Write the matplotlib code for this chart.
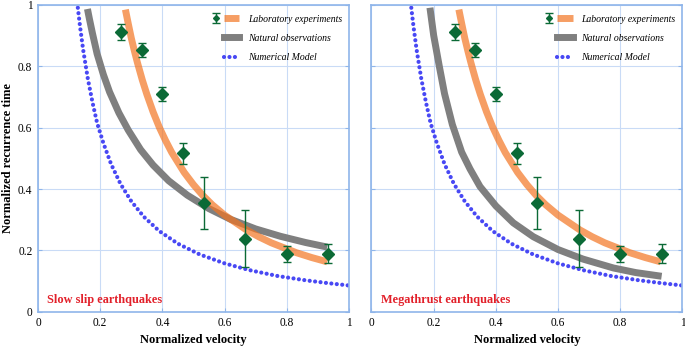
import matplotlib
matplotlib.use('Agg')
import matplotlib.pyplot as plt
from matplotlib.lines import Line2D
from matplotlib.legend_handler import HandlerTuple
from matplotlib.ticker import FuncFormatter

plt.rcParams['font.family'] = 'Liberation Serif'

# lab data (same in both panels)
lab_v = [0.267, 0.333, 0.400, 0.467, 0.533, 0.667, 0.800, 0.933]
lab_t = [0.912, 0.852, 0.708, 0.517, 0.355, 0.238, 0.187, 0.190]
lab_lo = [0.885, 0.829, 0.686, 0.482, 0.271, 0.147, 0.162, 0.160]
lab_hi = [0.937, 0.876, 0.733, 0.551, 0.438, 0.331, 0.214, 0.221]

# laboratory fit curve
fit_v = [0.281, 0.29, 0.30, 0.31, 0.32, 0.335, 0.35, 0.37, 0.39, 0.41, 0.43, 0.47,
         0.50, 0.53, 0.56, 0.60, 0.67, 0.71, 0.75, 0.83, 0.88, 0.93]
fit_t = [0.984, 0.939, 0.891, 0.849, 0.81, 0.756, 0.708, 0.651, 0.601, 0.558, 0.519, 0.454,
         0.414, 0.379, 0.349, 0.315, 0.267, 0.2445, 0.225, 0.193, 0.177, 0.163]

# numerical model
num_v = [0.128, 0.135, 0.145, 0.16, 0.175, 0.19, 0.21, 0.235, 0.265, 0.30, 0.34,
         0.39, 0.45, 0.52, 0.60, 0.68, 0.77, 0.86, 0.93, 1.0]
num_t = [0.99, 0.93, 0.854, 0.76, 0.683, 0.615, 0.55, 0.481, 0.417, 0.36, 0.31,
         0.263, 0.222, 0.187, 0.158, 0.136, 0.117, 0.103, 0.094, 0.086]

# natural observations
slow_v = [0.159, 0.165, 0.175, 0.19, 0.21, 0.23, 0.26, 0.29, 0.33, 0.37, 0.42,
          0.48, 0.55, 0.62, 0.70, 0.78, 0.86, 0.93]
slow_t = [0.986, 0.955, 0.907, 0.84, 0.773, 0.716, 0.648, 0.592, 0.528, 0.478, 0.427,
          0.38, 0.336, 0.301, 0.27, 0.246, 0.226, 0.211]
mega_v = [0.188, 0.20, 0.218, 0.235, 0.26, 0.29, 0.317, 0.349, 0.40, 0.456, 0.52,
          0.60, 0.68, 0.778, 0.85, 0.933]
mega_t = [0.99, 0.90, 0.80, 0.71, 0.61, 0.52, 0.465, 0.408, 0.345, 0.29, 0.245,
          0.203, 0.172, 0.143, 0.128, 0.116]

panels = [('Slow slip earthquakes', slow_v, slow_t),
          ('Megathrust earthquakes', mega_v, mega_t)]

ticks = [0, 0.2, 0.4, 0.6, 0.8, 1]
blue_frame = '#8fb5ea'
grid_col = '#c9dbf6'
green = '#0b6a36'
dots = (0, (0.01, 1.3))

fig = plt.figure(figsize=(6.85, 3.46), dpi=100)
ax_left = [0.0555, 0.5423]

for i, (name, nv, nt) in enumerate(panels):
    ax = fig.add_axes([ax_left[i], 0.0985, 0.454, 0.888])
    ax.set_xlim(0, 1)
    ax.set_ylim(0, 1)

    ax.plot(nv, nt, color='#7f7f7f', lw=5, solid_capstyle='butt',
            solid_joinstyle='round', zorder=3)
    orange, = ax.plot(fit_v, fit_t, color='#f37522', alpha=0.7, lw=5,
                      solid_capstyle='butt', solid_joinstyle='round', zorder=4)
    ax.plot(num_v, num_t, color='#4848f4', lw=3.0, linestyle=dots,
            dash_capstyle='round', zorder=2)
    yerr = [[t - lo for t, lo in zip(lab_t, lab_lo)],
            [hi - t for t, hi in zip(lab_t, lab_hi)]]
    eb = ax.errorbar(lab_v, lab_t, yerr=yerr, fmt='D', color=green, ms=6,
                     elinewidth=1, capsize=3, capthick=1, zorder=5)

    ax.set_xticks(ticks)
    ax.set_yticks(ticks)
    fmt = FuncFormatter(lambda v, p: '%g' % v)
    ax.xaxis.set_major_formatter(fmt)
    ax.yaxis.set_major_formatter(fmt)
    ax.grid(True, color=grid_col, lw=0.8)
    ax.set_axisbelow(True)
    for s in ax.spines.values():
        s.set_color(blue_frame)
        s.set_linewidth(1.2)
    ax.tick_params(direction='in', length=3, color=blue_frame, right=True, top=False,
                   labelsize=8.3, pad=4)
    if i == 1:
        ax.tick_params(labelleft=False)
    else:
        ax.set_ylabel('Normalized recurrence time', fontsize=9, fontweight='bold', labelpad=3)
    ax.set_xlabel('Normalized velocity', fontsize=9, fontweight='bold', labelpad=3)

    ax.text(0.03, 0.038, name, color='#e2202a', fontsize=8.8, fontweight='bold',
            transform=ax.transAxes, va='center', ha='left')

    blank = Line2D([], [], ls='none')
    gray_h = Line2D([], [], color='#7f7f7f', lw=5)
    blue_h = Line2D([], [], color='#4848f4', lw=3.0, linestyle=dots,
                    dash_capstyle='round')
    ax.legend([(eb, orange), (blank, gray_h), (blank, blue_h)],
              ['Laboratory experiments', 'Natural observations', 'Numerical Model'],
              handler_map={tuple: HandlerTuple(ndivide=None, pad=0.0)},
              loc='upper right', bbox_to_anchor=(1.0, 0.99), frameon=False,
              prop={'style': 'italic', 'size': 7.0}, handlelength=3.2,
              handletextpad=0.9, labelspacing=1.05, markerscale=0.5,
              borderaxespad=0.3)

fig.savefig('out.png', dpi=100)
